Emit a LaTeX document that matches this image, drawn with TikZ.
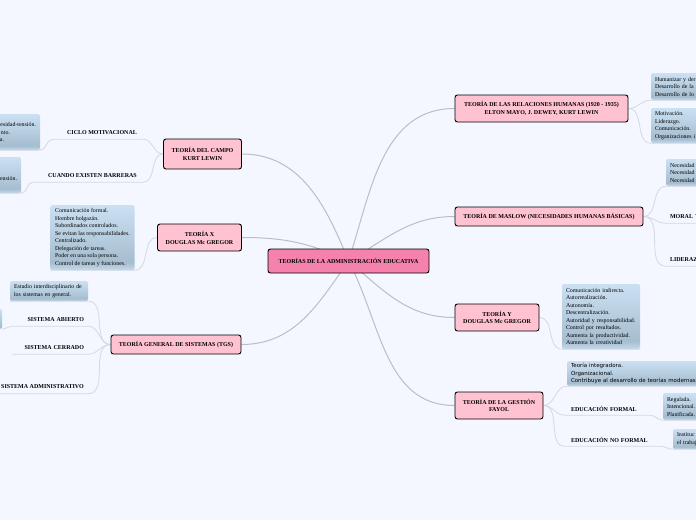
\documentclass[tikz,border=0pt]{standalone}
\usepackage{fontspec}
\setmainfont{Liberation Serif}
\newfontfamily\notesans{DejaVu Sans}
\usetikzlibrary{backgrounds}
\definecolor{pagebg}{HTML}{F4F7FF}
\definecolor{rootpink}{HTML}{F582AC}
\definecolor{topicpink}{HTML}{FFC2D0}
\definecolor{wire}{HTML}{D6D8DF}
\definecolor{hubwire}{HTML}{BCBEC2}
\definecolor{notetop}{HTML}{CBE1F3}
\definecolor{notemid}{HTML}{A6BDD0}
\definecolor{notelow}{HTML}{C4DAEC}
\pgfdeclareverticalshading{noteshade}{100bp}{color(0bp)=(notelow); color(25bp)=(notelow); color(31bp)=(notemid); color(75bp)=(notetop); color(100bp)=(notetop)}
\tikzset{
  root/.style={draw=black,line width=.9pt,rounded corners=2.5pt,fill=rootpink,inner sep=0pt,align=center,
    font=\fontsize{6}{7.3}\selectfont\bfseries},
  topic/.style={draw=black,line width=.9pt,rounded corners=2.5pt,fill=topicpink,inner sep=0pt,align=center,
    font=\fontsize{6}{7.3}\selectfont\bfseries},
  note/.style={rounded corners=1.5pt,shading=noteshade,inner sep=0pt,align=left,
    font=\fontsize{5.9}{7.5}\selectfont},
  tag/.style={inner sep=0pt,minimum height=13pt,font=\fontsize{6}{7.3}\selectfont\bfseries},
  wireline/.style={draw=wire,line width=.8pt},
  hubline/.style={draw=hubwire,line width=1pt}
}
\begin{document}
\begin{tikzpicture}[x=1pt,y=-1pt]
  \useasboundingbox (0,0) rectangle (696,520);
  \node (root) [root,minimum width=161pt,minimum height=24pt] at (348.5,261) {TEORÍAS DE LA ADMINISTRACIÓN EDUCATIVA};
  % left side
  \node (campo) [topic,minimum width=78pt,minimum height=30pt] at (202.5,154) {TEORÍA DEL CAMPO\\[1.2pt]KURT LEWIN};
  \node (teox) [topic,minimum width=84pt,minimum height=27pt] at (199.5,237.5) {TEORÍA X\\[.8pt]DOUGLAS Mc GREGOR};
  \node (tgs) [topic,minimum width=130pt,minimum height=19pt] at (176,344.5) {TEORÍA GENERAL DE SISTEMAS (TGS)};
  \node (ciclo) [tag,minimum width=90pt] at (98,132.5) {\hspace*{8pt}CICLO MOTIVACIONAL};
  \node (barreras) [tag,minimum width=110pt] at (88,175.5) {\hspace*{9pt}CUANDO EXISTEN BARRERAS};
  \node (cicnote) [note,minimum width=80pt,minimum height=36pt,text width=72pt,align=right] at (0,132)
    {cesidad-tensión.\\nto.\rule{26pt}{0pt}\\a.\rule{32pt}{0pt}};
  \node (barnote) [note,minimum width=80pt,minimum height=36pt,text width=72pt,align=right] at (-19,175)
    {\phantom{a}\\\phantom{a}\\ensión.\\\phantom{a}};
  \node (xnote) [note,minimum width=84pt,minimum height=65pt] at (92.5,237.5)
    {Comunicación formal.\\Hombre holgazán.\\Subordinados controlados.\\Se evitan las responsabilidades.\\Centralizado.\\Delegación de tareas.\\Poder en una sola persona.\\Control de tareas y funciones.};
  \node (estudio) [note,minimum width=78pt,minimum height=20pt,text width=70pt] at (49,291)
    {Estudio interdisciplinario de\\los sistemas en general.};
  \node (abierto) [tag,minimum width=76pt,text width=72pt,align=right] at (50,319.5) {SISTEMA ABIERTO\rule{2pt}{0pt}};
  \node (abnote) [note,minimum width=40pt,minimum height=20pt] at (-18,319) {};
  \node (cerrado) [tag,minimum width=76pt,text width=72pt,align=right] at (50,347.5) {SISTEMA CERRADO\rule{2pt}{0pt}};
  \node (admin) [tag,minimum width=88pt] at (44,387) {SISTEMA ADMINISTRATIVO\rule{3pt}{0pt}};
  % right side
  \node (relaciones) [topic,minimum width=173pt,minimum height=27pt] at (541.5,108.5) {TEORÍA DE LAS RELACIONES HUMANAS (1920 - 1935)\\ELTON MAYO, J. DEWEY, KURT LEWIN};
  \node (maslow) [topic,minimum width=188pt,minimum height=19pt] at (549,216.5) {TEORÍA DE MASLOW (NECESIDADES HUMANAS BÁSICAS)};
  \node (teoy) [topic,minimum width=84pt,minimum height=27pt] at (497,317.5) {TEORÍA Y\\DOUGLAS Mc GREGOR};
  \node (gestion) [topic,minimum width=88pt,minimum height=27pt] at (499,405.5) {TEORÍA DE LA GESTIÓN\\FAYOL};
  \node (human) [note,minimum width=100pt,minimum height=27pt,text width=92pt] at (701,86.5)
    {Humanizar y der\\Desarrollo de la\\Desarrollo de lo};
  \node (motiv) [note,minimum width=100pt,minimum height=35pt,text width=92pt] at (701,125.5)
    {Motivación.\\Liderazgo.\\Comunicación.\\Organizaciones i};
  \node (neces) [note,minimum width=100pt,minimum height=27pt,text width=92pt] at (716,172.5)
    {Necesidad\\Necesidad\\Necesidad};
  \node (moral) [tag,minimum width=60pt,text width=52pt,align=left] at (696,216.5) {MORAL Y};
  \node (lider) [tag,minimum width=60pt,text width=52pt,align=left] at (696,259.5) {LIDERAZ};
  \node (ynote) [note,minimum width=78pt,minimum height=65pt,text width=70pt] at (601,316.5)
    {Comunicación indirecta.\\Autorrealización.\\Autonomía.\\Descentralización.\\Autoridad y responsabilidad.\\Control por resultados.\\Aumenta la productividad.\\Aumenta la creatividad};
  \node (integra) [note,minimum width=160pt,minimum height=25pt,text width=152pt,font=\notesans\fontsize{5.5}{7.2}\selectfont] at (647,373.5)
    {Teoría integradora.\\Organizacional.\\Contribuye al desarrollo de teorías modernas.};
  \node (formal) [tag,minimum width=85pt,text width=73pt,align=left] at (607.5,408.5) {EDUCACIÓN FORMAL};
  \node (noformal) [tag,minimum width=95pt,text width=83pt,align=left] at (612.5,439.5) {EDUCACIÓN NO FORMAL};
  \node (regul) [note,minimum width=40pt,minimum height=27pt,text width=32pt] at (683,406.5)
    {Regulada.\\Intencional.\\Planificada.};
  \node (instit) [note,minimum width=60pt,minimum height=20pt,text width=52pt] at (703,439)
    {Instituc\\el trabaj};
  \begin{scope}[on background layer]
    \fill[pagebg] (0,0) rectangle (696,520);
    \draw[hubline] (campo.east) to[out=0,in=112] (root.center);
    \draw[hubline] (teox.east) to[out=0,in=155] (root.center);
    \draw[hubline] (tgs.east) to[out=0,in=235] (root.center);
    \draw[hubline] (relaciones.west) to[out=180,in=72] (root.center);
    \draw[hubline] (maslow.west) to[out=180,in=30] (root.center);
    \draw[hubline] (teoy.west) to[out=180,in=-40] (root.center);
    \draw[hubline] (gestion.west) to[out=180,in=-62] (root.center);
    \draw[wireline] (campo.west) to[out=180,in=0] (ciclo.south east) -- (ciclo.south west) to[out=180,in=0] (cicnote.south east) -- (cicnote.south west);
    \draw[wireline] (campo.west) to[out=180,in=0] (barreras.south east) -- (barreras.south west) to[out=180,in=0] (barnote.south east) -- (barnote.south west);
    \draw[wireline] (teox.west) to[out=180,in=0] (xnote.south east) -- (xnote.south west);
    \draw[wireline] (tgs.west) to[out=180,in=0] (estudio.south east) -- (estudio.south west);
    \draw[wireline] (tgs.west) to[out=180,in=0] (abierto.south east) -- (abierto.south west) to[out=180,in=0] (abnote.south east);
    \draw[wireline] (tgs.west) to[out=180,in=0] (cerrado.south east) -- (cerrado.south west);
    \draw[wireline] (tgs.west) to[out=180,in=0] (admin.south east) -- (admin.south west);
    \draw[wireline] (relaciones.east) to[out=0,in=180] (human.south west) -- (human.south east);
    \draw[wireline] (relaciones.east) to[out=0,in=180] (motiv.south west) -- (motiv.south east);
    \draw[wireline] (maslow.east) to[out=0,in=180] (neces.south west) -- (neces.south east);
    \draw[wireline] (maslow.east) to[out=0,in=180] (moral.south west) -- (moral.south east);
    \draw[wireline] (maslow.east) to[out=0,in=180] (lider.south west) -- (lider.south east);
    \draw[wireline] (teoy.east) to[out=0,in=180] (ynote.south west) -- (ynote.south east);
    \draw[wireline] (gestion.east) to[out=0,in=180] (integra.south west) -- (integra.south east);
    \draw[wireline] (gestion.east) to[out=0,in=180] (formal.south west) -- (formal.south east) to[out=0,in=180] (regul.south west) -- (regul.south east);
    \draw[wireline] (gestion.east) to[out=0,in=180] (noformal.south west) -- (noformal.south east) to[out=0,in=180] (instit.south west) -- (instit.south east);
  \end{scope}
\end{tikzpicture}
\end{document}
